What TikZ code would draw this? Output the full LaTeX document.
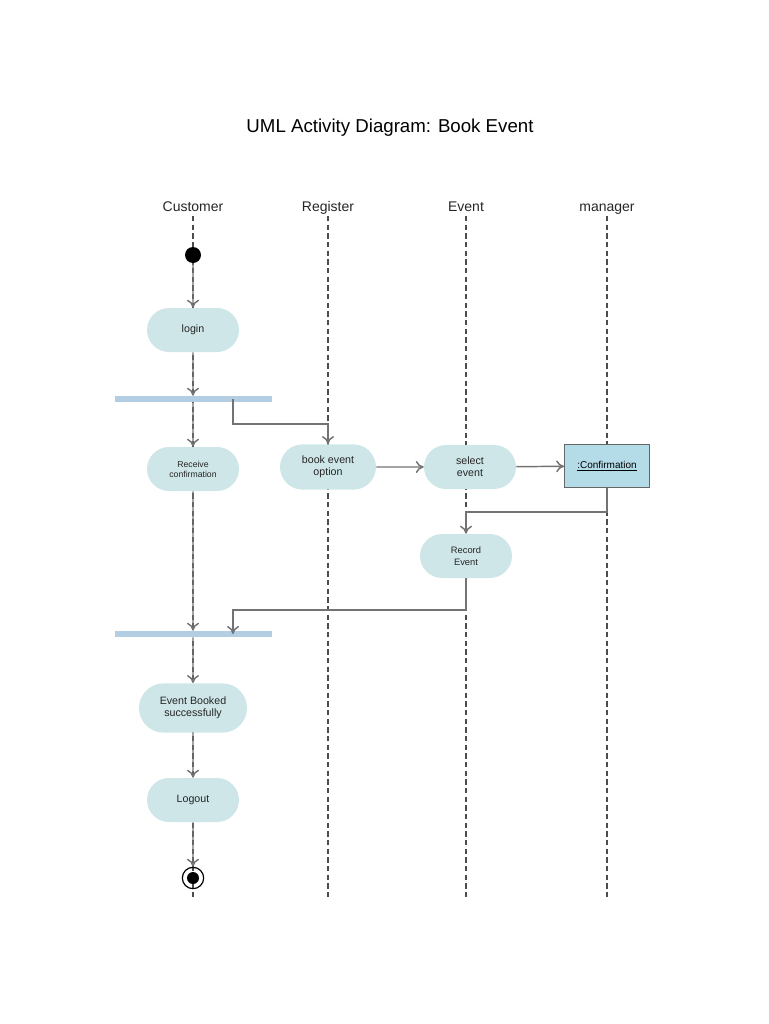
\documentclass[tikz,border=0pt]{standalone}
\usepackage{fontspec}
\setmainfont{Liberation Sans}
\usetikzlibrary{arrows.meta,shapes.misc}
\begin{document}
\begin{tikzpicture}[x=0.75pt,y=-0.75pt,
  act/.style={fill=actfill,draw=none,rounded rectangle,align=center,font=\fontsize{8}{9}\selectfont,text=black!85,inner sep=0pt},
  bar/.style={fill=barblue,draw=none,minimum height=4.5pt,minimum width=117.75pt,inner sep=0pt},
  life/.style={draw=black!70,dash pattern=on 4pt off 2.5pt,line width=0.8pt},
  flow/.style={draw=black!55,line width=1.1pt,-{To[length=6pt,width=9pt]}},
  hdr/.style={font=\fontsize{10.5}{12}\selectfont,text=black!85,anchor=base}]
\definecolor{actfill}{HTML}{CFE6E8}
\definecolor{barblue}{HTML}{B3CDE3}
\definecolor{confill}{HTML}{B4DCE8}
\useasboundingbox (0,0) rectangle (768,1024);
\node[font=\fontsize{14}{16}\selectfont] (title) at (390,128) {UML Activity Diagram: Book Event};
\node[hdr] (hc) at (193,211) {Customer};
\node[hdr] (hr) at (328,211) {Register};
\node[hdr] (he) at (466,211) {Event};
\node[hdr] (hm) at (607,211) {manager};
\foreach \x in {193,328,466,607} \draw[life] (\x,216) -- (\x,900);
\node[circle,fill=black,minimum size=12pt,inner sep=0pt] (start) at (193,255) {};
\node[act,minimum width=69pt,minimum height=33pt] (login) at (193,330) {login};
\node[bar] (bar1) at (193,399) {};
\node[act,minimum width=69pt,minimum height=33pt,font=\fontsize{6.5}{7.5}\selectfont] (recv) at (193,469) {Receive\\confirmation};
\node[act,minimum width=72pt,minimum height=34pt] (book) at (328,467) {book event\\option};
\node[act,minimum width=69pt,minimum height=33pt] (sel) at (470,467) {select\\event};
\node[draw=black!60,fill=confill,minimum width=64pt,minimum height=32pt,inner sep=0pt,font=\fontsize{7.5}{9}\selectfont] (conf) at (607,466) {\underline{:Confirmation}};
\node[act,minimum width=69pt,minimum height=33pt,font=\fontsize{7}{8.5}\selectfont] (rec) at (466,556) {Record\\Event};
\node[bar] (bar2) at (193,634) {};
\node[act,minimum width=81pt,minimum height=37pt] (booked) at (193,708) {Event Booked\\successfully};
\node[act,minimum width=69pt,minimum height=33pt] (logout) at (193,800) {Logout};
\node[circle,draw=black,line width=0.9pt,minimum size=16pt,inner sep=0pt] (endo) at (193,878) {};
\node[circle,fill=black,minimum size=9pt,inner sep=0pt] (endi) at (193,878) {};
\coordinate (b1r) at (233,399);
\coordinate (b2r) at (233,634);
\draw[flow] (start) -- (login);
\draw[flow] (login) -- (bar1);
\draw[flow] (bar1) -- (recv);
\draw[flow] (b1r) -- (233,424) -| (book.north);
\draw[flow] (book) -- (sel);
\draw[flow] (sel) -- (conf);
\draw[flow] (conf.south) -- (607,512) -| (rec.north);
\draw[flow] (recv) -- (bar2);
\draw[flow] (rec.south) -- (466,610) -| (b2r);
\draw[flow] (bar2) -- (booked);
\draw[flow] (booked) -- (logout);
\draw[flow] (logout) -- (endo);
\end{tikzpicture}
\end{document}
